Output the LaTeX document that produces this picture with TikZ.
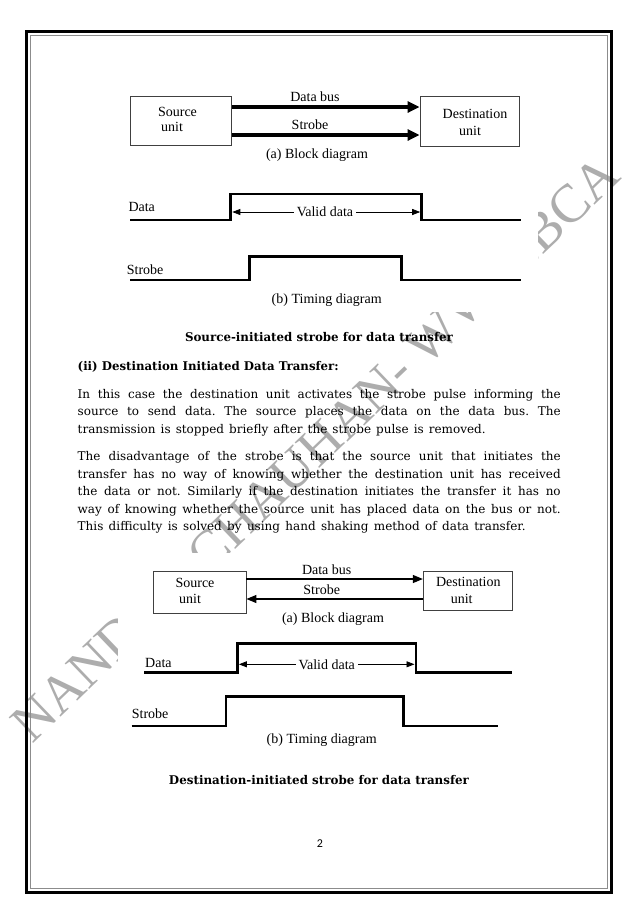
\documentclass[tikz,border=0pt]{standalone}
\usepackage{fontspec}
\usepackage{graphicx}
\setmainfont{Liberation Serif}
\newfontfamily\calibfont{Carlito}
\newfontfamily\bkm{DejaVu Serif}
\frenchspacing
\newsavebox\jbox
\newcommand\jline[2]{\sbox\jbox{#2}\ifdim\wd\jbox>#1\relax\resizebox{#1}{\height}{#2}\else\makebox[#1][s]{#2}\fi}
\usetikzlibrary{arrows.meta}
\tikzset{
  wave/.style={line width=2.8pt, line join=miter, line cap=butt},
  lbl/.style={font=\fontsize{14}{16}\selectfont, inner sep=0pt, anchor=base},
  lblw/.style={font=\fontsize{14}{16}\selectfont, inner sep=0pt, anchor=base west},
  blockbox/.style={draw=black!75, line width=0.9pt, inner sep=0pt},
  bodyline/.style={anchor=base west, inner sep=0pt, font=\bkm\fontsize{12}{14}\selectfont},
  headline/.style={anchor=base west, inner sep=0pt, font=\bkm\bfseries\fontsize{12}{14}\selectfont},
  titleline/.style={anchor=base, inner sep=0pt, font=\bkm\bfseries\fontsize{12}{14}\selectfont},
  wmark/.style={text=black!32, font=\fontsize{54}{60}\selectfont, rotate=43.8, anchor=base west, inner sep=0pt},
  thickarrow/.style={line width=3.2pt, -{Triangle[length=12pt,width=11pt]}},
  thinarrow/.style={line width=1.2pt, -{Triangle[length=10pt,width=8pt]}},
  validarrow/.style={line width=0.8pt, {Triangle[length=8pt,width=6pt]}-{Triangle[length=8pt,width=6pt]}},
}
\begin{document}
\begin{tikzpicture}[x=1pt,y=-1pt]
\useasboundingbox (0,0) rectangle (638,903);
\fill[white] (0,0) rectangle (638,903);
% watermark
\node[wmark] (wm) at (32,745) {NANDINI CHAUHAN- WWW.BCA};
% image backgrounds
\fill[white] (112,82) rectangle (538,312);
\fill[white] (118,553) rectangle (522,752);
% page border
\draw[line width=3pt] (26.5,31) rectangle (611,892);
\draw[black!45, line width=1pt] (30.5,35) rectangle (607,888);

% ---------- Diagram 1 ----------
\node[blockbox, minimum width=101.7pt, minimum height=48.3pt] (src1) at (180.85,120.85) {};
\node[blockbox, minimum width=99.3pt, minimum height=50pt] (dst1) at (469.65,121.7) {};
\node[lbl] (src1a) at (177.5,116) {Source};
\node[lbl] (src1b) at (172,131) {unit};
\node[lbl] (dst1a) at (475,118) {Destination};
\node[lbl] (dst1b) at (470,135) {unit};
\coordinate (y1a) at (0,107);
\coordinate (y1b) at (0,135);
\draw[thickarrow] (src1.east |- y1a) -- (dst1.west |- y1a);
\draw[thickarrow] (src1.east |- y1b) -- (dst1.west |- y1b);
\node[lbl] (db1) at (315,101.5) {Data bus};
\node[lbl] (st1) at (310,129.5) {Strobe};
\node[lbl] (cap1a) at (317,158) {(a) Block diagram};

% timing 1
\draw[wave] (130,220) -- (230.7,220) -- (230.7,194) -- (421.7,194) -- (421.7,220) -- (520.7,220);
\draw[wave] (130,280) -- (249.3,280) -- (249.3,256.7) -- (401.7,256.7) -- (401.7,280) -- (520.7,280);
\coordinate (v1l) at (232.3,212);
\coordinate (v1r) at (420.2,212);
\draw[validarrow] (v1l) -- (v1r);
\node[lbl, fill=white, inner xsep=3pt, inner ysep=1pt] (vd1) at (325,216.5) {Valid data};
\node[lblw] (dl1) at (128.3,211) {Data};
\node[lblw] (sl1) at (126.7,274) {Strobe};
\node[lbl] (cap1b) at (326.7,303) {(b) Timing diagram};

% ---------- Text ----------
\node[titleline] (t1) at (319,341.5) {\jline{268pt}{Source-initiated strobe for data transfer}};
\node[headline] (h1) at (77.5,370.5) {\jline{261pt}{(ii) Destination Initiated Data Transfer:}};
\node[bodyline] (p1a) at (77.5,398) {\jline{483pt}{In this case the destination unit activates the strobe pulse informing the}};
\node[bodyline] (p1b) at (77.5,415.7) {\jline{483pt}{source to send data. The source places the data on the data bus. The}};
\node[bodyline] (p1c) at (77.5,433) {\jline{408pt}{transmission is stopped briefly after the strobe pulse is removed.}};
\node[bodyline] (p2a) at (77.5,460.7) {\jline{483pt}{The disadvantage of the strobe is that the source unit that initiates the}};
\node[bodyline] (p2b) at (77.5,478.3) {\jline{483pt}{transfer has no way of knowing whether the destination unit has received}};
\node[bodyline] (p2c) at (77.5,495.7) {\jline{483pt}{the data or not. Similarly if the destination initiates the transfer it has no}};
\node[bodyline] (p2d) at (77.5,513) {\jline{483pt}{way of knowing whether the source unit has placed data on the bus or not.}};
\node[bodyline] (p2e) at (77.5,530.7) {\jline{448pt}{This difficulty is solved by using hand shaking method of data transfer.}};

% ---------- Diagram 2 ----------
\node[blockbox, minimum width=92.7pt, minimum height=41.6pt] (src2) at (199.65,592.5) {};
\node[blockbox, minimum width=89.4pt, minimum height=38.3pt] (dst2) at (468,590.85) {};
\node[lbl] (src2a) at (195,587) {Source};
\node[lbl] (src2b) at (190,603) {unit};
\node[lbl] (dst2a) at (468.3,586) {Destination};
\node[lbl] (dst2b) at (461.7,603) {unit};
\coordinate (y2a) at (0,579);
\coordinate (y2b) at (0,599);
\draw[thinarrow] (src2.east |- y2a) -- (dst2.west |- y2a);
\draw[thinarrow] (dst2.west |- y2b) -- (src2.east |- y2b);
\node[lbl] (db2) at (326.7,574.5) {Data bus};
\node[lbl] (st2) at (321.7,594.5) {Strobe};
\node[lbl] (cap2a) at (333,622) {(a) Block diagram};

% timing 2
\draw[wave] (144,672.7) -- (237.3,672.7) -- (237.3,643.3) -- (416,643.3) -- (416,672.7) -- (511.7,672.7);
\draw[wave] (131.7,726) -- (226,726) -- (226,696.7) -- (403.3,696.7) -- (403.3,726) -- (498.3,726);
\coordinate (v2l) at (238.9,664.3);
\coordinate (v2r) at (414.5,664.3);
\draw[validarrow] (v2l) -- (v2r);
\node[lbl, fill=white, inner xsep=3pt, inner ysep=1pt] (vd2) at (326.7,669) {Valid data};
\node[lblw] (dl2) at (145,667) {Data};
\node[lblw] (sl2) at (131.7,718) {Strobe};
\node[lbl] (cap2b) at (321.7,743) {(b) Timing diagram};

\node[titleline] (t2) at (319,784) {\jline{300pt}{Destination-initiated strobe for data transfer}};
\node[anchor=base, inner sep=0pt, font=\calibfont\fontsize{12}{14}\selectfont] (pg) at (320,847) {2};
\end{tikzpicture}
\end{document}
